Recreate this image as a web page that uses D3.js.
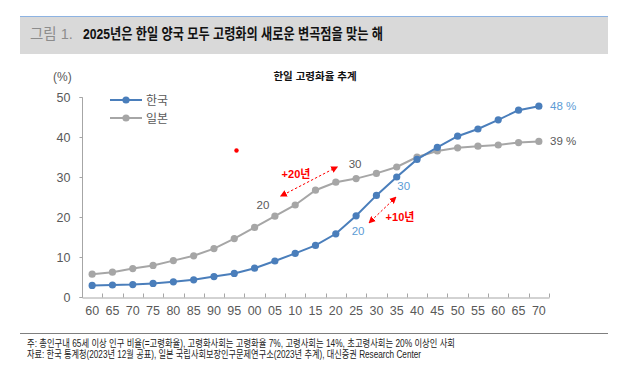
<!DOCTYPE html>
<html><head><meta charset="utf-8">
<script src="https://cdn.jsdelivr.net/npm/d3@7"></script>
<style>
body{margin:0;background:#fff;}
svg{display:block;font-family:"Liberation Sans","Noto Sans CJK KR",sans-serif;}
</style></head>
<body><svg id="c" width="621" height="380"></svg>
<script>
const years = ["60","65","70","75","80","85","90","95","00","05","10","15","20","25","30","35","40","45","50","55","60b","65b","70b"];
const yearLabels = ["60","65","70","75","80","85","90","95","00","05","10","15","20","25","30","35","40","45","50","55","60","65","70"];
const korea = [2.9,3.0,3.1,3.4,3.8,4.3,5.1,5.9,7.2,9.0,10.9,12.9,15.8,20.3,25.4,30.0,34.4,37.4,40.2,42.0,44.3,46.7,47.7];
const japan = [5.7,6.2,7.1,7.9,9.1,10.3,12.1,14.6,17.4,20.2,23.0,26.7,28.7,29.6,30.9,32.5,35.0,36.5,37.3,37.7,38.0,38.6,38.9];
const yTicks = [0,10,20,30,40,50];
const seriesNames = ["한국","일본"];
const endLabels = ["48 %","39 %"];
const title = "2025년은 한일 양국 모두 고령화의 새로운 변곡점을 맞는 해";
const titlePrefix = "그림 1.";
const chartTitle = "한일 고령화율 추계";
const notes = ["주: 총인구내 65세 이상 인구 비율(=고령화율), 고령화사회는 고령화율 7%, 고령사회는 14%, 초고령사회는 20% 이상인 사회",
               "자료: 한국 통계청(2023년 12월 공표), 일본 국립사회보장인구문제연구소(2023년 추계), 대신증권 Research Center"];

const svg = d3.select("#c");
const blue = "#4a7ebb", blueLight = "#5b9bd5", gray = "#a6a6a6", txt = "#595959", red = "#ff0000";

// header
svg.append("rect").attr("x",20).attr("y",17).attr("width",588).attr("height",37).attr("fill","#d9d9d9");
svg.append("line").attr("x1",20).attr("x2",608).attr("y1",16.5).attr("y2",16.5).attr("stroke","#8db3e2").attr("stroke-width",1);
svg.append("text").attr("x",30).attr("y",39).attr("font-size",14.5).attr("fill","#8c8c8c").text(titlePrefix);
svg.append("text").attr("x",83).attr("y",39).attr("font-size",15).attr("font-weight","bold").attr("fill","#111")
  .attr("textLength",300).attr("lengthAdjust","spacingAndGlyphs").text(title);

// scales
const x = d3.scaleBand().domain(years).range([82,549]);
const y = d3.scaleLinear().domain([0,50]).range([297,97]);
const cx = d => x(d) + x.bandwidth()/2;

// y axis
const ya = svg.append("g").attr("transform","translate(82.5,0)")
  .call(d3.axisLeft(y).tickValues(yTicks).tickSize(3).tickPadding(9).tickFormat(d3.format("d")));
ya.select(".domain").attr("stroke","#a6a6a6").attr("d","M-3,97.5H0V297.5H-3");
ya.selectAll(".tick line").attr("stroke","#a6a6a6");
ya.selectAll(".tick text").attr("font-size",12.5).attr("fill",txt).attr("font-family",null);

// x axis
const xa = svg.append("g").attr("transform","translate(0,297.5)")
  .call(d3.axisBottom(x).tickFormat((d,i)=>yearLabels[i]).tickSize(0).tickPadding(9));
xa.select(".domain").attr("stroke","#a6a6a6");
xa.selectAll(".tick text").attr("font-size",12.5).attr("fill",txt).attr("font-family",null);
// boundary ticks (upward)
svg.append("g").selectAll("line").data(years.concat(["end"])).join("line")
  .attr("x1",(d,i)=> i<years.length ? Math.round(x(d))+0.5 : 549.5)
  .attr("x2",(d,i)=> i<years.length ? Math.round(x(d))+0.5 : 549.5)
  .attr("y1",297.5).attr("y2",293.5).attr("stroke","#a6a6a6");

// labels
svg.append("text").attr("x",53).attr("y",81).attr("font-size",12).attr("fill",txt).text("(%)");
svg.append("text").attr("x",315).attr("y",80).attr("text-anchor","middle").attr("font-size",10.5).attr("font-weight","bold").attr("fill","#111").text(chartTitle);

// lines
const line = d3.line().x((d,i)=>cx(years[i])).y(d=>y(d));
const series = [{v:japan,c:gray},{v:korea,c:blue}];
series.forEach(s=>{
  svg.append("path").datum(s.v).attr("d",line).attr("fill","none").attr("stroke",s.c).attr("stroke-width",2);
  svg.append("g").selectAll("circle").data(s.v).join("circle")
    .attr("cx",(d,i)=>cx(years[i])).attr("cy",d=>y(d)).attr("r",3.6).attr("fill",s.c);
});

// end labels
svg.append("text").attr("x",550).attr("y",y(korea[22])+4).attr("font-size",11.5).attr("fill",blueLight).text(endLabels[0]);
svg.append("text").attr("x",550).attr("y",y(japan[22])+4).attr("font-size",11.5).attr("fill",txt).text(endLabels[1]);

// point labels
svg.append("text").attr("x",cx("05")-12).attr("y",y(japan[9])-7).attr("text-anchor","middle").attr("font-size",11.5).attr("fill",txt).text("20");
svg.append("text").attr("x",cx("25")-1).attr("y",y(japan[13])-11).attr("text-anchor","middle").attr("font-size",11.5).attr("fill",txt).text("30");
svg.append("text").attr("x",cx("35")+7).attr("y",y(korea[15])+13).attr("text-anchor","middle").attr("font-size",11.5).attr("fill",blueLight).text("30");
svg.append("text").attr("x",cx("25")+2).attr("y",y(korea[13])+19).attr("text-anchor","middle").attr("font-size",11.5).attr("fill",blueLight).text("20");

// legend
const leg = [{n:seriesNames[0],c:blue,yy:100},{n:seriesNames[1],c:gray,yy:118}];
leg.forEach(l=>{
  svg.append("line").attr("x1",110).attr("x2",142).attr("y1",l.yy).attr("y2",l.yy).attr("stroke",l.c).attr("stroke-width",2);
  svg.append("circle").attr("cx",126).attr("cy",l.yy).attr("r",3.6).attr("fill",l.c);
  svg.append("text").attr("x",146).attr("y",l.yy+4.5).attr("font-size",12).attr("fill",txt).text(l.n);
});

// red annotations
const defs = svg.append("defs");
defs.append("marker").attr("id","ah").attr("viewBox","0 0 10 10").attr("refX",5).attr("refY",5)
  .attr("markerWidth",7).attr("markerHeight",7).attr("orient","auto-start-reverse")
  .append("path").attr("d","M0,0L10,5L0,10z").attr("fill",red);
function arrow(x1,y1,x2,y2){
  svg.append("line").attr("x1",x1).attr("y1",y1).attr("x2",x2).attr("y2",y2)
    .attr("stroke",red).attr("stroke-width",1).attr("stroke-dasharray","2.5,2")
    .attr("marker-start","url(#ah)").attr("marker-end","url(#ah)");
}
arrow(283,195,335,168);
arrow(371,221,394,199);
svg.append("text").attr("x",296).attr("y",177.5).attr("text-anchor","middle").attr("font-size",11).attr("font-weight","bold").attr("fill",red).text("+20년");
svg.append("text").attr("x",400).attr("y",221).attr("text-anchor","middle").attr("font-size",11).attr("font-weight","bold").attr("fill",red).text("+10년");
svg.append("circle").attr("cx",236.5).attr("cy",150.5).attr("r",2.2).attr("fill",red);

// footer
svg.append("line").attr("x1",20).attr("x2",608).attr("y1",333.5).attr("y2",333.5).attr("stroke","#7f7f7f");
svg.append("text").attr("x",27).attr("y",347).attr("font-size",10).attr("fill","#222").attr("textLength",428).attr("lengthAdjust","spacingAndGlyphs").text(notes[0]);
svg.append("text").attr("x",27).attr("y",358).attr("font-size",10).attr("fill","#222").attr("textLength",394).attr("lengthAdjust","spacingAndGlyphs").text(notes[1]);
</script></body></html>
